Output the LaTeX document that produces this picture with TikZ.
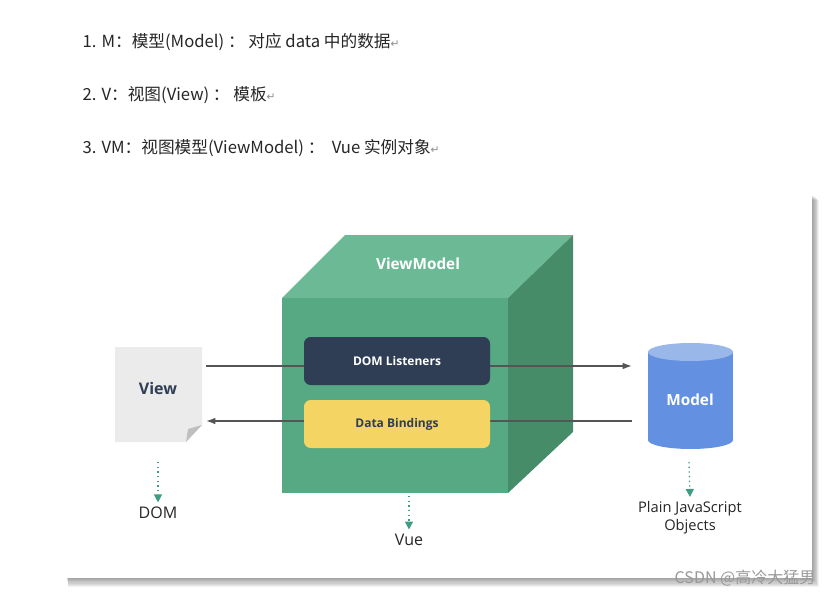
\documentclass[tikz,border=0pt]{standalone}
\usepackage{fontspec}
\setmainfont{Open Sans}
\newfontfamily\cjk{Noto Sans CJK SC}
\newfontfamily\dejavu{DejaVu Sans}
\usetikzlibrary{arrows.meta,shapes.geometric}
\definecolor{front}{HTML}{56A982}
\definecolor{topf}{HTML}{6CBA95}
\definecolor{side}{HTML}{468C68}
\definecolor{navy}{HTML}{2F3E54}
\definecolor{yel}{HTML}{F4D462}
\definecolor{blu}{HTML}{6390E0}
\definecolor{blutop}{HTML}{9AB7EA}
\definecolor{teal}{HTML}{3E9C83}
\definecolor{ln}{HTML}{555555}
\newcommand{\retmark}{{\dejavu\color{black!45}\fontsize{8}{8}\selectfont ↵}}
\tikzset{
 line/.style={draw=ln,line width=1.1pt},
 dotarrow/.style={draw=teal,line width=1pt,dash pattern=on 1pt off 2.5pt,-{Triangle[width=6pt,length=6pt,fill=teal,sep=0pt]}},
 lbl/.style={font=\fontsize{12}{14}\selectfont,text=black!85},
 hd/.style={font=\cjk\fontsize{12.5}{15}\selectfont,anchor=west,text=black!85},
 box/.style={rounded corners=5pt,minimum width=139.5pt,minimum height=36pt,inner sep=0pt,font=\fontsize{9}{11}\selectfont\bfseries}
}
\begin{document}
\begin{tikzpicture}[x=0.75pt,y=-0.75pt]
\useasboundingbox (0,0) rectangle (833,596);
\fill[white] (0,0) rectangle (833,596);
\node[hd] (l1) at (78,42) {1. M：模型(Model) ： 对应 data 中的数据\retmark};
\node[hd] (l2) at (78,95) {2. V：视图(View) ： 模板\retmark};
\node[hd] (l3) at (78,148) {3. VM：视图模型(ViewModel) ：\ \ Vue 实例对象\retmark};
% card with soft shadow
\foreach \i in {1,...,8} {
  \fill[black,opacity=0.05] (66+\i*0.3,195+\i*0.6) rectangle (812+\i*0.9,578+\i*1.1);
}
\fill[white] (66,195) rectangle (812,578);
% cube
\fill[topf] (282,298) -- (345,235) -- (573,235) -- (508,298) -- cycle;
\fill[side] (508,298) -- (573,235) -- (573,432) -- (508,493) -- cycle;
\fill[front] (282,298) rectangle (508,493);
\node[text=white,font=\fontsize{11.5}{13}\selectfont\bfseries] (vm) at (418,264) {ViewModel};
% view doc
\fill[black!8] (115,347) -- (202,347) -- (202,425) -- (186,442) -- (115,442) -- cycle;
\fill[black!25] (202,425) -- (188,429) -- (186,442) -- cycle;
\node[font=\fontsize{12}{14}\selectfont\bfseries,text=navy] (view) at (158,388) {View};
\coordinate (vr1) at (206,366);
\coordinate (vr2) at (206,421);
% model cylinder
\fill[blu] (648,352) rectangle (733,440);
\fill[blu] (690.5,440) ellipse (42.5 and 9);
\fill[blutop] (690.5,352) ellipse (42.5 and 9);
\node[text=white,font=\fontsize{11.5}{13}\selectfont\bfseries] (model) at (690,400) {Model};
\coordinate (ml1) at (632,366);
\coordinate (ml2) at (632,421);
% arrows
\draw[line,-{Latex[length=7pt,width=5pt]}] (vr1) -- (ml1);
\draw[line,-{Latex[length=7pt,width=5pt]}] (ml2) -- (vr2);
\node[box,fill=navy,text=white] (dl) at (397,361) {DOM Listeners};
\node[box,fill=yel,text=navy] (db) at (397,424) {Data Bindings};
% dotted
\node[lbl] (dom) at (158,513) {DOM};
\node[lbl] (vue) at (409,540) {Vue};
\node[lbl,align=center,font=\fontsize{11}{13.5}\selectfont] (pjs) at (690,518) {Plain JavaScript\\Objects};
\coordinate (d1) at (158,462);
\coordinate (d2) at (409,496);
\coordinate (d3) at (689,462);
\draw[dotarrow] (d1) -- (dom.north);
\draw[dotarrow] (d2) -- (vue.north);
\draw[dotarrow] (d3) -- (pjs.north);
\node[font=\cjk\fontsize{12}{14}\selectfont,text=black!40,anchor=east] (wm) at (820,578) {CSDN @高冷大猛男};
\end{tikzpicture}
\end{document}
